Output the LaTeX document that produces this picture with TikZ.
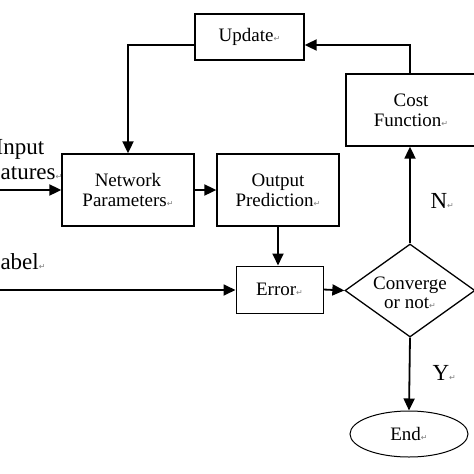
\documentclass[tikz,border=0pt]{standalone}
\usepackage{fontspec}
\setmainfont{Liberation Serif}
\newfontfamily\symfont{DejaVu Sans}
\usetikzlibrary{arrows.meta,shapes.geometric}
\newcommand{\parmark}{{\symfont\fontsize{8}{8}\selectfont\textcolor{gray}{↵}}}

\begin{document}
\begin{tikzpicture}[x=1pt,y=-1pt,
  box/.style={draw, line width=1.3pt, rectangle, inner sep=0pt, align=center, font=\fontsize{19}{20}\selectfont},
  flow/.style={draw, line width=1.8pt, -{Triangle[length=12pt,width=11pt]}},
  side/.style={align=center, font=\fontsize{23}{25}\selectfont}]
\useasboundingbox (0,0) rectangle (474,474);
% boxes
\node[box, minimum width=109, minimum height=46] (upd) at (249.5,37) {Update\parmark};
\node[box, minimum width=130, minimum height=72] (cost) at (411,110) {Cost\\Function\parmark};
\node[box, minimum width=132, minimum height=72] (net) at (128,190) {Network\\Parameters\parmark};
\node[box, minimum width=122, minimum height=72] (outp) at (278,190) {Output\\Prediction\parmark};
\node[box, line width=1pt, minimum width=87, minimum height=47] (err) at (279.5,289.5) {Error\parmark};
\node[draw, line width=1.3pt, diamond, inner sep=0pt, minimum width=130, minimum height=93] (conv) at (410,290.5) {};
\node[align=center, font=\fontsize{19}{19}\selectfont] (convtxt) at (410,293) {Converge\\or not\parmark};
\node[draw, line width=1pt, ellipse, inner sep=0pt, minimum width=118, minimum height=46, font=\fontsize{19}{20}\selectfont] (end) at (409,434) {End\parmark};
% outer labels
\node[side] (feat) at (20,160) {Input\\Features\parmark};
\node[side, anchor=base] (lab) at (16,269) {Label\parmark};
\node[side, anchor=base west] (no) at (427,208) {N\parmark};
\node[side, anchor=base west] (yes) at (429,380) {Y\parmark};
\coordinate (featin) at (0,190);
\coordinate (labin) at (0,290);
% connectors
\path[flow] (featin) -- (net.west);
\path[flow] (net.east) -- (outp.west);
\path[flow] (outp.south) -- (outp.south |- err.north);
\path[flow] (labin) -- (labin -| err.west);
\path[flow] (err.east) -- (conv.west);
\path[flow] (conv.north) -- (cost.south -| conv.north);
\path[flow] (conv.south) -- (end.north);
\path[flow] (cost.north -| conv.north) |- ([yshift=-8pt]upd.east);
\path[flow] ([yshift=-8pt]upd.west) -| (net.north);
\end{tikzpicture}
\end{document}
